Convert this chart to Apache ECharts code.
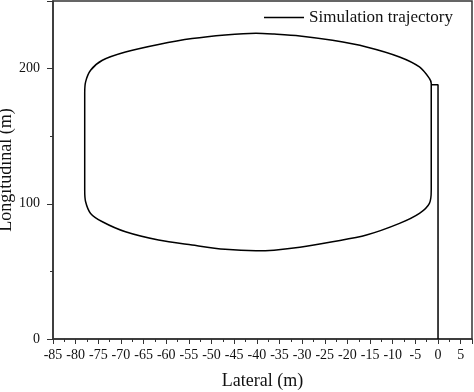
<!DOCTYPE html>
<html>
<head>
<meta charset="utf-8">
<script src="https://cdn.jsdelivr.net/npm/echarts@6/dist/echarts.min.js"></script>
<style>
  html, body { margin: 0; padding: 0; background: #fff; }
  #show_picture { width: 474px; height: 392px; }
</style>
</head>
<body>
<div id="show_picture"></div>
<script>
// trajectory (lateral, longitudinal in m)
const trajX = [0, 0, -1.5, -1.5, -1.9, -4.1, -8.5, -15.8, -23.3, -30.5, -36.2, -40.2, -47.0, -54.3, -61.7, -69.0, -74.1, -76.7, -77.8, -78.0,
    -78.0, -77.8, -76.7, -74.1, -69.0, -61.7, -54.3, -47.0, -40.2, -36.2, -30.5, -23.3, -15.8, -8.5, -4.1, -1.9, -1.5, -1.5];
const trajY = [0, 188, 188, 189, 192.7, 201.2, 208.6, 216.0, 220.9, 224.2, 225.6, 226.2, 224.9, 222.2, 217.8, 212.3, 206.2, 198.8, 190.2, 182,
    110, 101.5, 92.9, 86.7, 79.3, 73.2, 69.5, 66.3, 65.2, 65.7, 67.8, 71.9, 76.9, 85.5, 92.9, 100.3, 110, 188];
const seriesName = 'Simulation trajectory';
const xTicks = { min: -85, max: 7.5, step: 5 };
const yTicks = { min: 0, max: 250, step: 100 };

let myChart = echarts.init(document.getElementById('show_picture'));
let d = [];
for (let i = 0; i < trajX.length; i++) {
    d.push([trajX[i], trajY[i]]);
}

const font = 'Liberation Serif';
let option = {
    animation: false,
    textStyle: { fontFamily: font, color: '#111' },
    grid: {
        left: 53, right: 2, top: 1, bottom: 53,
        outerBoundsMode: 'none', containLabel: false,
        show: true, borderColor: '#333', borderWidth: 1.5
    },
    legend: {
        top: 4, right: 16,
        icon: 'rect', itemWidth: 40, itemHeight: 1.5, itemGap: 6,
        textStyle: { fontFamily: font, fontSize: 17, color: '#111' },
        data: [seriesName]
    },
    xAxis: {
        type: 'value',
        min: xTicks.min, max: xTicks.max, interval: xTicks.step,
        name: 'Lateral (m)', nameLocation: 'middle', nameGap: 33, nameMoveOverlap: false,
        nameTextStyle: { fontFamily: font, fontSize: 18, color: '#111' },
        axisLine: { show: true, onZero: false, lineStyle: { color: '#333', width: 1.5 } },
        axisTick: { show: true, inside: false, length: 5, lineStyle: { color: '#333' } },
        minorTick: { show: true, splitNumber: 2, length: 3, lineStyle: { color: '#333' } },
        axisLabel: { interval: 0, margin: 9, fontSize: 14, color: '#111', fontFamily: font, showMaxLabel: false },
        splitLine: { show: false }
    },
    yAxis: {
        type: 'value',
        min: yTicks.min, max: yTicks.max, interval: yTicks.step,
        name: 'Longitudinal (m)', nameLocation: 'middle', nameGap: 38, nameMoveOverlap: false,
        nameTextStyle: { fontFamily: font, fontSize: 18, color: '#111' },
        axisLine: { show: true, onZero: false, lineStyle: { color: '#333', width: 1.5 } },
        axisTick: { show: true, inside: false, length: 6, lineStyle: { color: '#333' } },
        minorTick: { show: true, splitNumber: 2, length: 3, lineStyle: { color: '#333' } },
        axisLabel: { margin: 13, fontSize: 14, color: '#111', fontFamily: font, showMaxLabel: false },
        splitLine: { show: false }
    },
    series: [
        {
            name: seriesName,
            type: 'line',
            symbol: 'none',
            smooth: 0.3,
            color: '#000',
            lineStyle: { color: '#000', width: 1.5 },
            data: d
        }
    ]
};

option && myChart.setOption(option);
</script>
</body>
</html>
